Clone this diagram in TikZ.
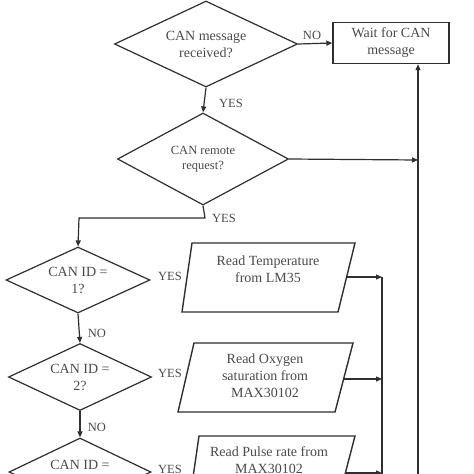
\documentclass[tikz,border=0pt]{standalone}
\usepackage{fontspec}
\setmainfont{Liberation Serif}
\usetikzlibrary{shapes.geometric,arrows.meta}
\definecolor{lnc}{HTML}{2F2F2F}
\definecolor{txc}{HTML}{4A4A4A}
\tikzset{
  dia/.style={draw=lnc, line width=1.2pt, shape=diamond, inner sep=0pt},
  waitbox/.style={draw=lnc, line width=1.4pt, rectangle, minimum width=116pt, minimum height=41pt, inner sep=0pt},
  txt/.style={text=txc, align=center, font=\fontsize{14}{17}\selectfont, inner sep=0pt},
  smalltxt/.style={text=txc, align=center, font=\fontsize{12.5}{14.5}\selectfont, inner sep=0pt},
  lab/.style={text=txc, font=\fontsize{12.5}{14}\selectfont, inner sep=0pt},
  arr/.style={draw=lnc, line width=1.2pt, -{Triangle[length=6pt,width=5pt]}},
  wire/.style={draw=lnc, line width=1.2pt},
  para/.style={draw=lnc, line width=1.4pt, line join=miter}
}
\begin{document}
\begin{tikzpicture}[x=1pt,y=-1pt]
\useasboundingbox (0,0) rectangle (474,474);
\clip (0,0) rectangle (474,474);
\fill[white] (0,0) rectangle (474,474);

% decisions
\node[dia, minimum width=183pt, minimum height=86pt] (d1) at (206,44) {};
\node[txt] (t1) at (d1.center) {CAN message\\received?};
\node[waitbox] (w) at (391,43) {};
\node[txt] (tw) at (w.center) {Wait for CAN\\message};
\node[dia, minimum width=171pt, minimum height=92pt] (d2) at (203,159) {};
\node[smalltxt] (t2) at (d2.center) {CAN remote\\request?};
\node[dia, minimum width=144pt, minimum height=66pt] (d3) at (78,280) {};
\node[txt] (t3) at (d3.center) {CAN ID =\\1?};
\node[dia, minimum width=143pt, minimum height=67pt] (d4) at (80,377) {};
\node[txt] (t4) at (d4.center) {CAN ID =\\2?};
\node[dia, minimum width=142pt, minimum height=68pt] (d5) at (80,472) {};
\node[txt] (t5) at (80,465) {CAN ID =};

% parallelograms
\draw[para] (192,243) -- (355,243) -- (338,312) -- (182,312) -- cycle;
\node[txt] (p1) at (268,269) {Read Temperature\\from LM35};
\draw[para] (194,343) -- (353,343) -- (335,412) -- (178,412) -- cycle;
\node[txt] (p2) at (265,376) {Read Oxygen\\saturation from\\MAX30102};
\draw[para] (199,436) -- (355,436) -- (337,505) -- (189,505) -- cycle;
\node[txt] (p3) at (269,460) {Read Pulse rate from\\MAX30102};

\coordinate (p1r) at (346.6,277);
\coordinate (p2r) at (343.6,379);
\coordinate (p3r) at (345.3,473);
\coordinate (c1) at (382,277);
\coordinate (c2) at (382,379);
\coordinate (c3) at (382,473);
\coordinate (cb) at (382,490);
\coordinate (r2) at (418,160);
\coordinate (rb) at (418,490);
\coordinate (k1) at (205,218);
\coordinate (k2) at (79,218);

% connectors
\draw[arr] (d1.east) -- (w.west);
\node[lab] (no1) at (312,35) {NO};
\draw[arr] (d1.south) -- (d2.north);
\node[lab] (yes1) at (231,103) {YES};
\draw[arr] (d2.east) -- (r2);
\draw[arr] (rb) -- (rb |- w.south);
\draw[arr] (d2.south) -- (k1) -- (k2) -- (d3.north);
\node[lab] (yes2) at (224,218) {YES};
\draw[arr] (d3.south) -- (d4.north);
\node[lab] (no2) at (97,333) {NO};
\draw[arr] (d4.south) -- (d5.north);
\node[lab] (no3) at (97,427) {NO};
\node[lab] (yes3) at (170,276) {YES};
\node[lab] (yes4) at (170,373) {YES};
\node[lab] (yes5) at (170,469) {YES};
\draw[arr] (p1r) -- (c1);
\draw[arr] (p2r) -- (c2);
\draw[arr] (p3r) -- (c3);
\draw[wire] (c1) -- (cb);
\end{tikzpicture}
\end{document}
